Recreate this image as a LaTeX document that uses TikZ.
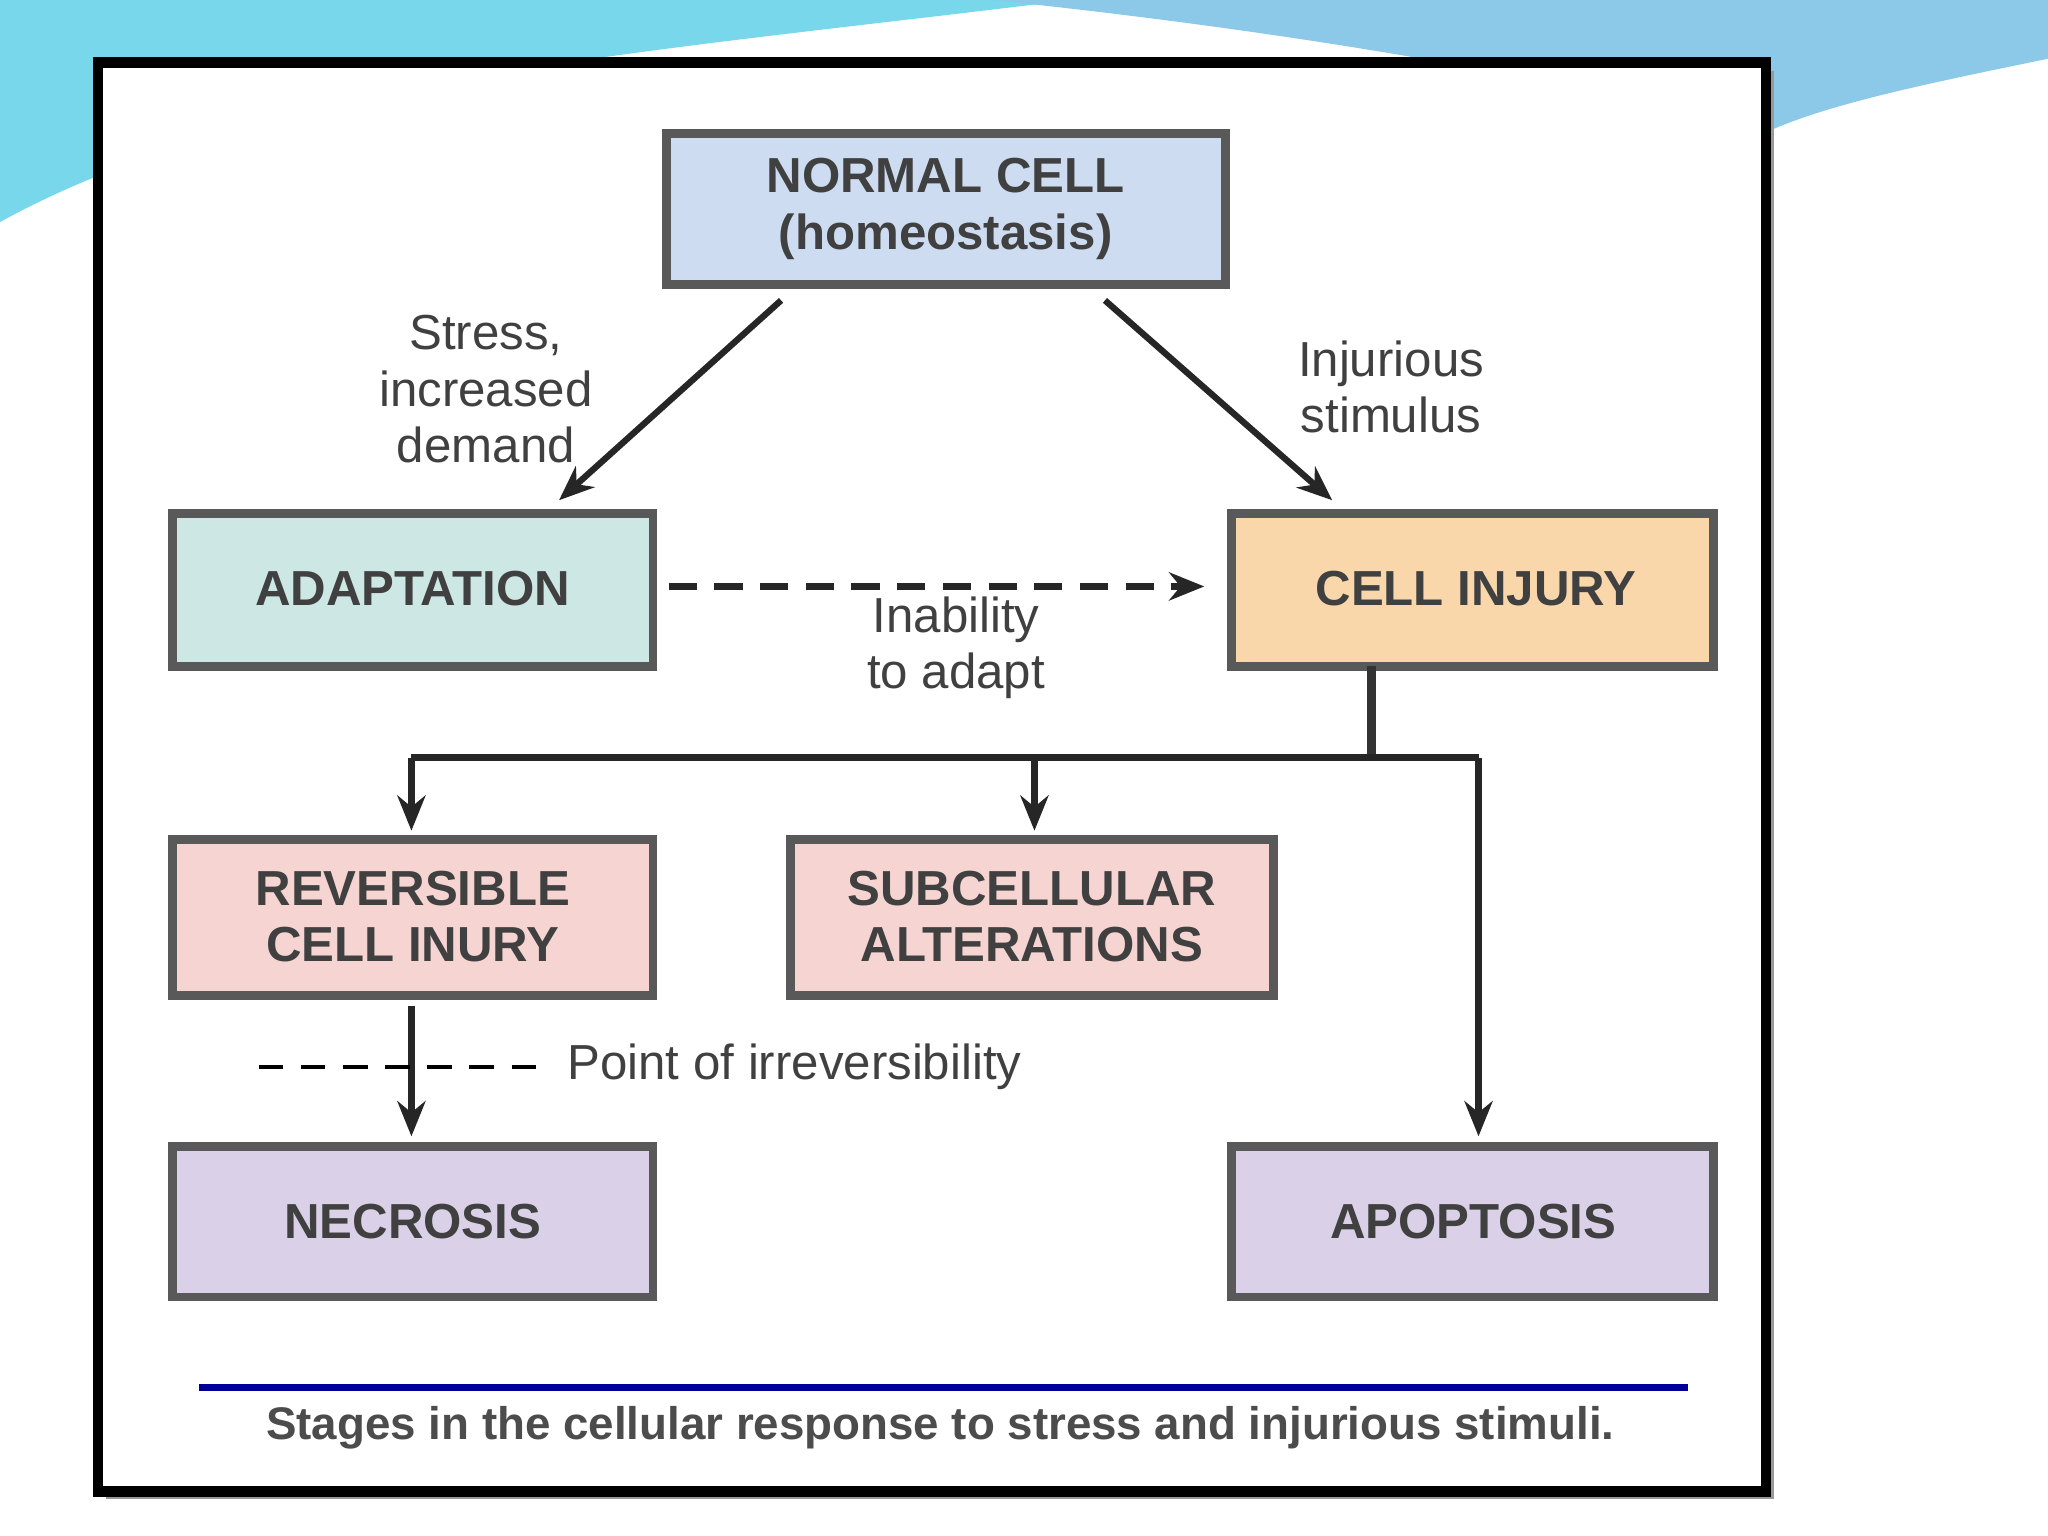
\documentclass[tikz,border=0pt]{standalone}
\usepackage{fontspec}
\setmainfont{Liberation Sans}
\usetikzlibrary{arrows.meta}
\definecolor{cNorm}{RGB}{205,220,240}
\definecolor{cAdap}{RGB}{205,232,228}
\definecolor{cInj}{RGB}{250,215,170}
\definecolor{cRev}{RGB}{245,212,210}
\definecolor{cNec}{RGB}{218,208,232}
\definecolor{cWave}{RGB}{120,215,235}
\definecolor{cWave2}{RGB}{140,200,232}
\begin{document}
\begin{tikzpicture}[x=0.01306cm,y=-0.01306cm,
  box/.style={draw=black!65,line width=2.5pt},
  arr/.style={line width=1.8pt,black!85,-{Stealth[length=10pt,width=8pt]}},
  lbl/.style={font=\fontsize{14}{16}\selectfont,text=black!75,align=center},
  blbl/.style={font=\fontsize{14}{16}\selectfont\bfseries,text=black!75,align=center}
]
\useasboundingbox (0,0) rectangle (1568,1176);
\fill[white] (0,0) rectangle (1568,1176);
% background waves
\fill[cWave] (0,0) -- (820,0) .. controls (500,40) and (200,60) .. (0,170) -- cycle;
\fill[cWave2] (760,0) -- (1568,0) -- (1568,45) .. controls (1470,65) and (1400,80) .. (1355,100) .. controls (1150,50) and (950,20) .. (760,0) -- cycle;
% frame
\fill[black!40] (81,54) rectangle (1358,1148);
\draw[line width=3pt,fill=white] (75,48) rectangle (1352,1142);
% boxes
\draw[box,fill=cNorm] (510,102) rectangle (938,218);
\node[blbl] (norm) at (724,160) {NORMAL CELL\\(homeostasis)};
\draw[box,fill=cAdap] (132,393) rectangle (500,510);
\node[blbl] (adap) at (316,451) {ADAPTATION};
\draw[box,fill=cInj] (943,393) rectangle (1312,510);
\node[blbl] (inj) at (1130,451) {CELL INJURY};
\draw[box,fill=cRev] (132,643) rectangle (500,762);
\node[blbl] (rev) at (316,702) {REVERSIBLE\\CELL INURY};
\draw[box,fill=cRev] (605,643) rectangle (975,762);
\node[blbl] (sub) at (790,702) {SUBCELLULAR\\ALTERATIONS};
\draw[box,fill=cNec] (132,878) rectangle (500,993);
\node[blbl] (nec) at (316,935) {NECROSIS};
\draw[box,fill=cNec] (943,878) rectangle (1312,993);
\node[blbl] (apo) at (1128,935) {APOPTOSIS};
% coordinates
\coordinate (a1) at (598,230); \coordinate (a2) at (428,383);
\coordinate (b1) at (846,230); \coordinate (b2) at (1020,383);
\coordinate (c1) at (512,449); \coordinate (c2) at (922,449);
\coordinate (j0) at (1050,510); \coordinate (j1) at (1050,580);
\coordinate (hL) at (315,580); \coordinate (hR) at (1132,580);
\coordinate (hM) at (792,580);
\coordinate (dL) at (315,636); \coordinate (dM) at (792,636); \coordinate (dR) at (1132,870);
\coordinate (r1) at (315,770); \coordinate (r2) at (315,870);
\coordinate (p1) at (198,817); \coordinate (p2) at (410,817);
% connectors
\draw[arr] (a1) -- (a2);
\draw[arr] (b1) -- (b2);
\draw[arr,dash pattern=on 8pt off 5pt] (c1) -- (c2);
\draw[line width=2.5pt,black!80] (j0) -- (j1);
\draw[line width=1.8pt,black!85] (hL) -- (hR);
\draw[arr] (hL) -- (dL);
\draw[arr] (hM) -- (dM);
\draw[arr] (hR) -- (dR);
\draw[arr] (r1) -- (r2);
\draw[line width=1pt,dash pattern=on 7pt off 5pt] (p1) -- (p2);
% labels
\node[lbl] (l1) at (372,298) {Stress,\\increased\\demand};
\node[lbl] (l2) at (1065,296) {Injurious\\stimulus};
\node[lbl] (l3) at (732,496) {Inability\\to adapt};
\node[lbl,anchor=west] (l4) at (425,817) {Point of irreversibility};
% caption
\draw[line width=2pt,blue!60!black] (152,1062) -- (1292,1062);
\node[font=\fontsize{13}{15}\selectfont\bfseries,text=black!70] (cap) at (720,1093) {Stages in the cellular response to stress and injurious stimuli.};
\end{tikzpicture}
\end{document}
